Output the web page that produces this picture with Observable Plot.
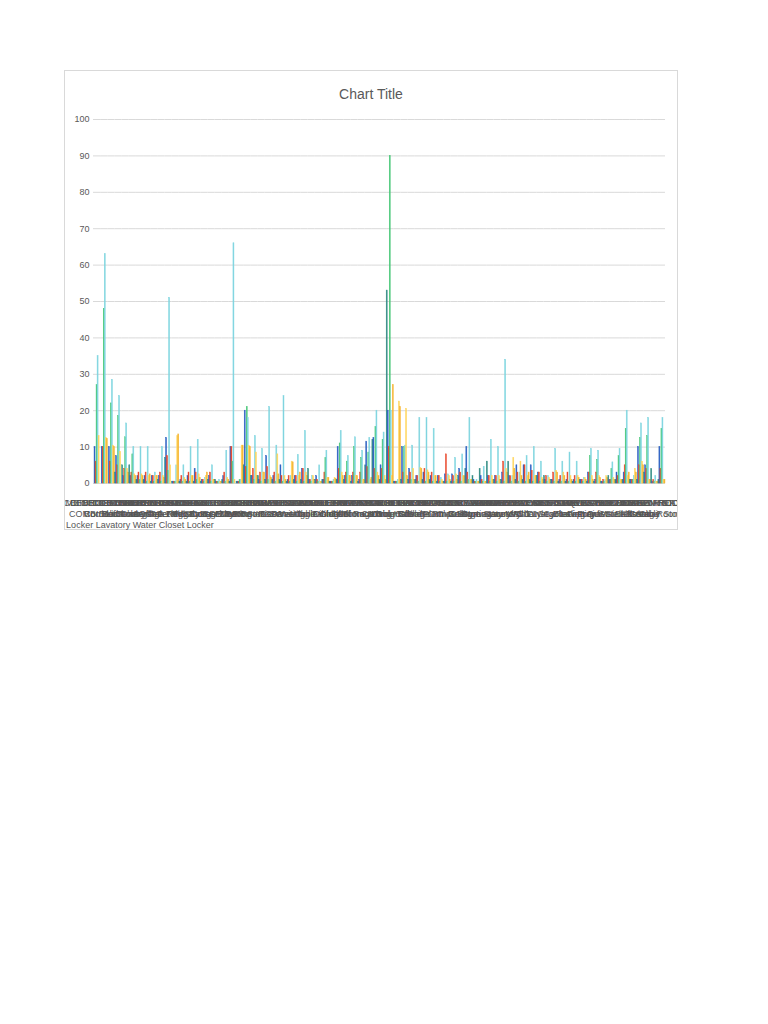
<!DOCTYPE html>
<html><head><meta charset="utf-8">
<script src="https://cdn.jsdelivr.net/npm/d3@7"></script>
<script src="https://cdn.jsdelivr.net/npm/@observablehq/plot@0.6"></script>
<style>
body{margin:0;background:#fff;font-family:"Liberation Sans",Arial,sans-serif;}
#box{position:absolute;left:64px;top:70px;width:612px;height:458px;border:1px solid #d9d9d9;background:#fff;}
#title{position:absolute;left:0;width:100%;top:15px;text-align:center;font-size:14px;color:#595959;}
#chart{position:absolute;left:0;top:35px;}
</style></head><body>
<div id="box"><div id="title">Chart Title</div><div id="chart"></div></div>
<script>
const categories = [
"COMBINED SERVICE\nCOMBI Room","CORRIDOR LOBBY\nCorridor A","BEDROOM SUITE 1\nRoc Bedroom","BELT STORE RM\nBelt Store","LIFT LOBBY L1\nLift Lobby",
"CLEANERS STORE\nCleaners","LOCKER ROOM M\nChanging\nLocker Lavatory Water Closet Locker","CENTRAL CORR\nCentral","DEGREE OFFICE\nOffice 1","GENERAL STORE\nGeneral",
"CENTRAL TEA\nTea Point","TECH ROOM\nTechnical","REG OFFICE\nRegistry","REG CORRIDOR\nReg Corr","RB STORAGE\nRB Storage",
"STORAGE ROOM 2\nStorage 2","EAST LOBBY\nEast Lobby","EAST CORRIDOR\nEast Corr","SCE ROOM\nSCE Room","ENTRANCE HALL\nEntrance",
"MEETING ROOM A\nMeeting A","BBR STORE\nBBR Store","ROOM 201\nRoom 201","ROOM 202\nRoom 202","SERVICE RISER\nRiser",
"COMMS ROOM\nComms","SERVER ROOM\nServer","WAITING AREA\nWaiting","VESTIBULE\nVestibule","ADMIN OFFICE\nAdmin",
"LONG TABLE RM\nLong Table","TABLE STORE\nTable Store","DINING HALL\nDining","KITCHEN PREP\nKitchen","CHIEF OFFICE\nChief",
"CHIEF STORAGE\nChief Storage","STAFF ROOM\nStaff Room","ROOM 301\nRoom 301","COMMON ROOM\nCommon Room","CONTROL ROOM\nControl",
"LIVING ROOM\nLiving","LONG HALL\nLong Hall","TABLE ROOM\nTable Room","CAFE AREA\nCafe","CHILLER PLANT\nChiller",
"BOILER ROOM\nBoiler","STORAGE 3\nStorage Rm 3","PLANT ROOM\nPlant","ROOM 401\nRoom 401","COMPUTER LAB\nComputer",
"CLEANING STORE\nCleaning","CEILING VOID\nCeiling","SCORE ROOM\nScore","SCORING OFFICE\nScoring","GYM STORE\nGym Store",
"LAVATORY M\nLavatory M","LAVATORY F\nLavatory F","LAUNDRY ROOM\nLaundry","ACCESSIBLE WC\nAccessible","WATER CLOSET 1\nWC 1",
"WATER CLOSET 2\nWC 2","SHOWER ROOM\nShower","DRYING ROOM\nDrying","GEAR STORE\nGear","CYCLE STORE\nCycle",
"BIN STORE\nBins","LOADING BAY\nLoading","RECEPTION\nReception","FIRST AID\nFirst Aid","PRAYER ROOM\nPrayer",
"QUIET ROOM\nQuiet","WC LOBBY\nLavatory Water Closet","STAIR CORE A\nStair A","STAIR CORE B\nStair B","LIFT SHAFT\nLift",
"ELEC CUPBOARD\nElectrical","ASSEMBLY HALL\nAssembly","STAGE AREA\nStage","GREEN ROOM\nGreen Room","CHAIR STORE\nChair Store"
];
const seriesNames = ["Series 1","Series 2","Series 3","Series 4","Series 5","Series 6","Series 7"];
const seriesColors = ["#2f8a80","#2a5fc1","#e8462a","#45c776","#7fd5df","#ffd55c","#f5b431"];
const series1Values = [0,0,0,3,5,5,1,1,0.5,1, 7,0.5,0.5,0.5,0.5,0.5,1,1,1,0.5, 0.5,5,2,2,1,1,1,0.5,1,1, 4,1,1,0.5,1,1,0.5,0.5,5,12, 1,53,0.5,1,1,1,1,1,0.5,0.5, 0.5,2,4,2,4,6,1,1,6,1, 1,1,2,2,1,0.5,0.5,0.5,1,0.5, 0.5,0.5,2,1,1,1,1,3,4,1];
const series2Values = [10,10,10,7.5,2,2,2,2,2,2, 12.5,0.5,1,2,4,1,2,0.5,2,10, 0.5,20,2,1,7.5,2,5,1,2,4, 1,2,1,0.5,10,2,2,1,11.5,12.5, 5,20,0.5,10,4,2,3,2,2,2.5, 2.5,4,10,1,2,2,2,3,2,5, 5,5,3,1,1,1,1,1,1,3, 1,0.5,1,3,3,1,10,5,0.5,10];
const series3Values = [6,10,6,5,4,3,3,3,2,3, 7.5,0.5,2,3,3,1,3,0.5,3,10, 0.5,4.5,4,3,4.5,3,2,2,2,4, 1,1,3,0.5,4,3,3,3,4.5,4, 4,10,0.5,3,3,2,4,3,2,8, 2,3,3,0.5,1,2,2,6,2,3, 5,3.5,3,2,3,2,3,2,1,3, 3,1,1,2,5,1,5,4,1,4];
const series4Values = [27,48,22,18.5,12.7,8,1,0.5,0.5,0.5, 3.5,0.5,0.5,0.5,1,0.5,0.5,0.5,0.5,6, 1,21,1,0.5,1,0.5,0.5,0.5,0.5,0.5, 0.5,0.5,7,0.5,11,6,10,7,8.5,15.5, 12,90,0.5,10,1,0.5,0.5,0.5,0.5,0.5, 0.5,0.5,1,0.5,0.5,0.5,0.5,0.5,0.5,0.5, 0.5,0.5,0.5,0.5,0.5,0.5,0.5,0.5,0.5,7.5, 6.5,0.5,4,7.5,15,1,12.5,13,0.5,15];
const series5Values = [35,63,28.5,24,16.5,10,10,10,3,10, 51,5,5,10,12,1.5,5,1,9,66, 1,18,13,9.5,21,10.4,24,2,7.8,14.4, 2,5,9,1,14.4,7.5,12.7,9,12.5,20, 14,20,1,10.4,10.4,18,18,15,1.5,2.5, 7,8,18,1,4.6,12,10,34,2,3, 7.5,10,6,2,9.5,6,8.5,6,1.5,9.5, 9,1,5.8,9.5,20,2,16.5,18,2,18];
const series6Values = [13,12.5,10.4,8.7,4,2.5,2.5,2,2,2, 5,13,1.5,2,2.5,2,1,0.5,1.5,1, 10.4,10.4,8.5,3,2,8,2,6,2,3, 2,0.5,1.5,1.5,3,2,2,1,1,3, 2,2,22.5,20.5,4,4.2,3.6,2,1,2, 2.5,2,1,0.5,0.5,2,2,4,7,6, 2,2,1.5,1.5,3.5,3,2,2,1.5,2, 2,2,1.5,1,2,4,6,1,0.5,1];
const series7Values = [0,12.2,10,0,3,2,2,2.5,2,1.5, 0,13.5,1,2,1.5,3,1,0.5,1,0, 10.4,10,2,3,1.5,2.5,1,5.8,3,2, 1,0.5,1.5,1.2,2,2,2,1,1.5,2, 1,27,21,2,1,4,3,2,0.5,1, 1,2,1,0.5,0.5,1,1,3,4,2, 3,2,1,1,3,2,1,1.5,1,1, 1.5,1.5,1,1,3,3,5,1,0.5,1];
const yTicks = [0,10,20,30,40,50,60,70,80,90,100];

const seriesValues = [series1Values, series2Values, series3Values, series4Values, series5Values, series6Values, series7Values];
const data = [];
categories.forEach((c, i) => {
  seriesNames.forEach((s, j) => {
    data.push({category: c, series: s, value: seriesValues[j][i]});
  });
});

const plot = Plot.plot({
  width: 612, height: 424,
  marginTop: 13, marginBottom: 47, marginLeft: 28, marginRight: 12,
  style: {fontFamily: '"Liberation Sans", Arial, sans-serif', fontSize: "9px", color: "#595959", background: "transparent", overflow: "hidden"},
  fx: {domain: categories, padding: 0, round: false, label: null},
  x: {domain: seriesNames, padding: 0.05, round: false, axis: null},
  y: {domain: [0, 100], label: null},
  color: {type: "ordinal", domain: seriesNames, range: seriesColors},
  marks: [
    Plot.gridY(yTicks, {stroke: "#d9d9d9", strokeOpacity: 1}),
    Plot.axisY(yTicks, {tickSize: 0, tickPadding: 4, fontSize: 9, fill: "#595959", label: null}),
    Plot.barY(data, {fx: "category", x: "series", y: "value", fill: "series", stroke: "series", strokeWidth: 0.5}),
    Plot.axisFx({anchor: "bottom", tickSize: 0, tickPadding: 15, fontSize: 9, fill: "#555", lineHeight: 1.2, label: null})
  ]
});
document.getElementById("chart").appendChild(plot);
</script>
</body></html>
